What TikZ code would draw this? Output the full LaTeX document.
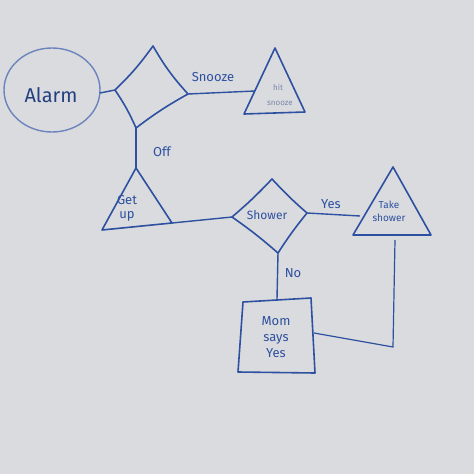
\documentclass[tikz,border=0pt]{standalone}
\usepackage{fontspec}
\setmainfont{Fira Sans}
\definecolor{board}{RGB}{218,219,222}
\definecolor{ink}{RGB}{45,80,160}
\definecolor{faint}{RGB}{120,135,170}
\begin{document}
\begin{tikzpicture}[x=1pt,y=-1pt,
  outline/.style={draw=ink,line width=1.6pt,line join=round},
  conn/.style={draw=ink,line width=1.4pt},
  lbl/.style={text=ink,font=\fontsize{13}{13}\selectfont,inner sep=0pt},
  txt/.style={text=ink,font=\fontsize{12}{11}\selectfont,align=center,inner sep=0pt}]
\fill[board] (0,0) rectangle (474,474);
\useasboundingbox (0,0) rectangle (474,474);
% Alarm
\draw[draw=ink!70,line width=1.4pt] (52,90) ellipse [x radius=48,y radius=42];
\node[text=ink!80!black,font=\fontsize{20}{20}\selectfont] (alarm) at (51,95) {Alarm};
\coordinate (alarmR) at (100,93);
% decision 1
\coordinate (d1l) at (115,90); \coordinate (d1t) at (153,46);
\coordinate (d1r) at (188,94); \coordinate (d1b) at (136,128);
\draw[outline] (d1l) to[bend right=5] (d1t) to[bend right=6] (d1r) to[bend right=4] (d1b) to[bend right=5] cycle;
\draw[conn] (alarmR) -- (d1l);
% hit snooze triangle
\coordinate (h1) at (275,48); \coordinate (h2) at (244,114); \coordinate (h3) at (305,112);
\draw[outline] (h1) -- (h2) -- (h3) -- cycle;
\node[text=faint,font=\fontsize{8}{8}\selectfont,inner sep=0pt] (hit) at (278,87) {hit};
\node[text=faint,font=\fontsize{8}{8}\selectfont,inner sep=0pt] (hitsn) at (280,103) {snooze};
\coordinate (hL) at (255,91);
\draw[conn] (d1r) -- (hL);
\node[lbl] (snooze) at (213,77) {Snooze};
% get up
\coordinate (g1) at (136,168); \coordinate (g2) at (102,230); \coordinate (g3) at (172,223);
\draw[outline] (g1) -- (g2) -- (g3) -- cycle;
\node[txt,font=\fontsize{13}{14}\selectfont] (getup) at (127,208) {Get\\up};
\draw[conn] (d1b) -- (g1);
\node[lbl] (off) at (162,152) {Off};
% shower decision
\coordinate (s1) at (232,217); \coordinate (s2) at (272,179);
\coordinate (s3) at (307,213); \coordinate (s4) at (278,253);
\draw[outline] (s1) to[bend right=3] (s2) to[bend right=3] (s3) to[bend right=3] (s4) to[bend right=3] cycle;
\node[txt] (shower) at (267,215) {Shower};
\draw[conn] (g3) -- (s1);
% take shower
\coordinate (t1) at (393,167); \coordinate (t2) at (353,235); \coordinate (t3) at (431,235);
\draw[outline] (t1) -- (t2) -- (t3) -- cycle;
\node[txt,font=\fontsize{10}{13}\selectfont] (take) at (389,211) {Take\\shower};
\coordinate (tL) at (360,216);
\draw[conn] (s3) -- (tL);
\node[lbl] (yes) at (331,204) {Yes};
% mom says yes
\coordinate (m1) at (243,302); \coordinate (m2) at (311,298);
\coordinate (m3) at (315,373); \coordinate (m4) at (238,372);
\draw[outline] (m1) -- (m2) -- (m3) -- (m4) -- cycle;
\node[txt,font=\fontsize{13}{16}\selectfont] (mom) at (276,337) {Mom\\says\\Yes};
\coordinate (mT) at (277,299);
\draw[conn] (s4) -- (mT);
\node[lbl] (no) at (293,273) {No};
% loop back
\coordinate (tB) at (395,240); \coordinate (corner) at (393,347); \coordinate (mR) at (314,333);
\draw[conn,line width=1.2pt] (tB) -- (corner) -- (mR);
\end{tikzpicture}
\end{document}
